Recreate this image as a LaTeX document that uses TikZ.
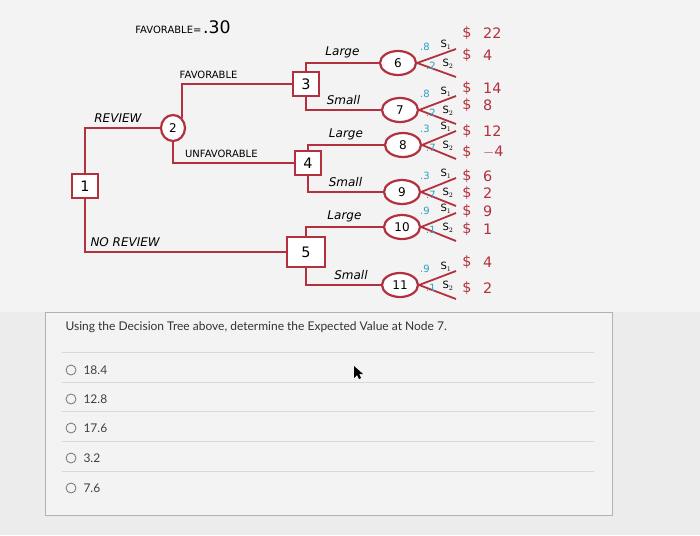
\documentclass[tikz,border=0pt]{standalone}
\usepackage{fontspec}
\setmainfont{Lato}
\newfontfamily\hand{DejaVu Sans}
\usetikzlibrary{shapes.geometric}
\definecolor{inkred}{HTML}{B3303E}
\definecolor{inkblue}{HTML}{2E9FC0}
\definecolor{bg}{HTML}{ECECEC}
\definecolor{paper}{HTML}{F3F3F3}
\begin{document}
\begin{tikzpicture}[x=1pt,y=-1pt,
  br/.style={draw=inkred,line width=2.2pt},
  dec/.style={draw=inkred,line width=2.2pt,fill=white,minimum width=26pt,minimum height=24pt,inner sep=0pt,font=\hand\Large},
  chn/.style={draw=inkred,line width=2.2pt,fill=white,ellipse,minimum width=36pt,minimum height=24pt,inner sep=0pt,font=\hand\large},
  lab/.style={font=\hand\itshape\large,inner sep=1pt},
  caplab/.style={font=\hand\normalsize,inner sep=1pt},
  pb/.style={font=\hand\normalsize,text=inkblue,inner sep=0pt},
  pay/.style={font=\hand\Large,text=inkred,inner sep=0pt},
  opt/.style={font=\large,text=black!75,anchor=west},
  sep/.style={draw=black!15,line width=0.8pt}]
\fill[bg] (0,0) rectangle (700,535);
\fill[paper] (0,0) rectangle (700,312);
\draw[draw=black!30,fill=paper] (45,312) rectangle (612,515);
\useasboundingbox (0,0) rectangle (700,535);

% tree nodes
\node[dec] (n1) at (85,186) {1};
\node[chn,minimum width=24pt,minimum height=26pt] (n2) at (173,128) {2};
\node[dec] (n3) at (306,84) {3};
\node[dec] (n4) at (308,163) {4};
\node[dec,minimum width=38pt,minimum height=30pt] (n5) at (306,252) {5};
\node[chn] (n6) at (398,63) {6};
\node[chn] (n7) at (400,110) {7};
\node[chn] (n8) at (403,145) {8};
\node[chn] (n9) at (402,192) {9};
\node[chn] (n10) at (402,227) {10};
\node[chn] (n11) at (400,285) {11};

\node[font=\hand\normalsize] (title) at (183,27) {FAVORABLE=\,\LARGE.30};

% branches
\draw[br] (n1.north) |- (n2.west) node[lab,pos=0.72,above=3pt] {REVIEW};
\draw[br] (n1.south) |- (n5.west) node[lab,pos=0.6,above=3pt] {NO REVIEW};
\draw[br] (n2.north east) |- (n3.west) node[caplab,pos=0.62,above=3pt] {FAVORABLE};
\draw[br] (n2.south) |- (n4.west) node[caplab,pos=0.7,above=3pt] {UNFAVORABLE};
\draw[br] (n3.north) |- (n6.west) node[lab,pos=0.75,above=3pt] {Large};
\draw[br] (n3.south) |- (n7.west) node[lab,pos=0.75,above=3pt] {Small};
\draw[br] (n4.north) |- (n8.west) node[lab,pos=0.75,above=3pt] {Large};
\draw[br] (n4.south) |- (n9.west) node[lab,pos=0.75,above=3pt] {Small};
\draw[br] (n5.north) |- (n10.west) node[lab,pos=0.75,above=3pt] {Large};
\draw[br] (n5.south) |- (n11.west) node[lab,pos=0.8,above=3pt] {Small};

% chance outcomes
\foreach \n/\y/\pa/\pbb/\va/\vb/\ya/\yb in
  {n6/63/.8/.2/22/4/33/55, n7/110/.8/.2/14/8/88/105,
   n8/145/.3/.7/12/$-$4/131/152, n9/192/.3/.7/6/2/176/193,
   n10/227/.9/.1/9/1/211/229, n11/285/.9/.1/4/2/262/288}{
  \coordinate (\n a) at (456,\y-14);
  \coordinate (\n b) at (456,\y+14);
  \draw[br,line width=1.8pt] (\n.east) -- (\n a);
  \draw[br,line width=1.8pt] (\n.east) -- (\n b);
  \node[pb] at (425,\y-16) {\pa};
  \node[pb] at (431,\y+3) {\pbb};
  \node[font=\hand\normalsize,inner sep=0pt] at (446,\y-18) {S$_1$};
  \node[font=\hand\normalsize,inner sep=0pt] at (448,\y+1) {S$_2$};
  \node[pay] at (467,\ya) {\$};
  \node[pay] at (467,\yb) {\$};
  \node[pay,anchor=west] at (483,\ya) {\va};
  \node[pay,anchor=west] at (483,\yb) {\vb};
}

% quiz
\node[anchor=west,font=\large,text=black!80] (q) at (62,327) {Using the Decision Tree above, determine the Expected Value at Node 7.};
\foreach \y in {352,382,411,441,471} \draw[sep] (62,\y) -- (594,\y);
\foreach \y/\t in {370/18.4,399/12.8,428/17.6,458/3.2,488/7.6}{
  \draw[black!55,line width=0.8pt] (71,\y) circle (5);
  \node[opt] at (80,\y) {\t};
}
\fill[black] (354,366) -- (354,378) -- (357,375) -- (359,379) -- (361,378) -- (359,374) -- (363,374) -- cycle;
\end{tikzpicture}
\end{document}
